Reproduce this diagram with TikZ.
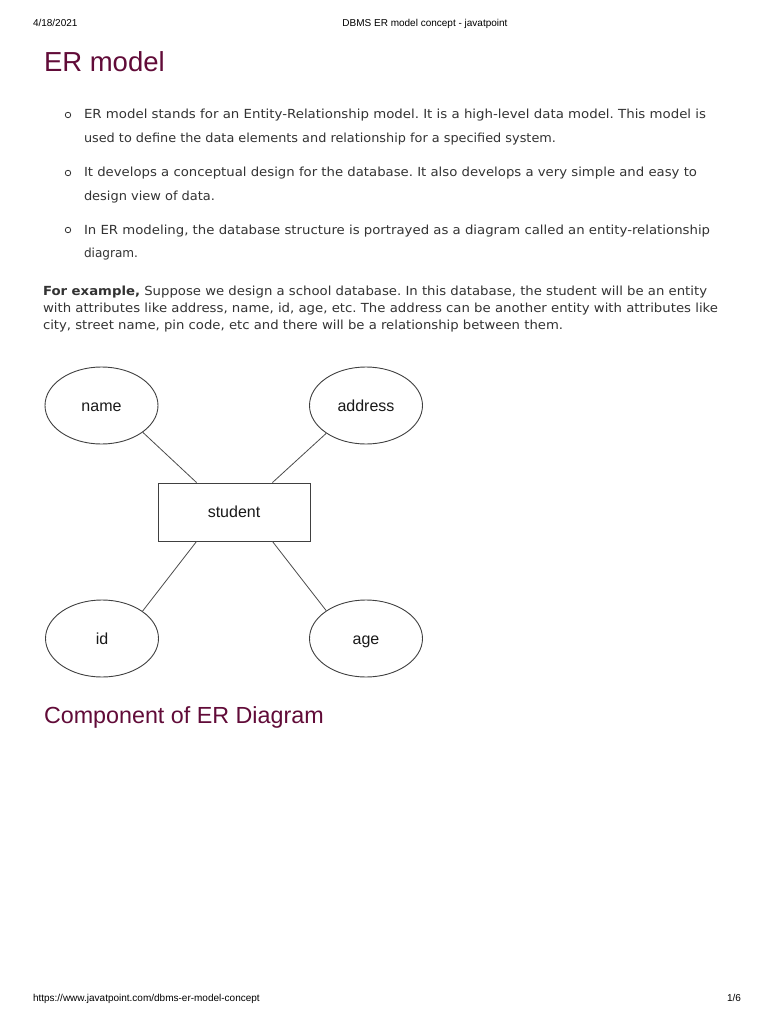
\documentclass[tikz,border=0pt]{standalone}
\usepackage{fontspec}
\setmainfont{DejaVu Sans}
\newfontfamily\arialf{Liberation Sans}
\usepackage{graphicx}
\usetikzlibrary{shapes.geometric}
\definecolor{headc}{HTML}{610B38}
\definecolor{bodyc}{HTML}{333333}
\newcommand\fw[2]{\resizebox{#1pt}{\height}{#2}}
\tikzset{
  txt/.style={anchor=base west, inner sep=0pt, outer sep=0pt, text=bodyc, font=\fontsize{12.5}{15}\selectfont},
  hdr/.style={anchor=base west, inner sep=0pt, outer sep=0pt, text=headc, font=\arialf\fontsize{#1}{#1}\selectfont},
  smalltxt/.style={anchor=base west, inner sep=0pt, outer sep=0pt, text=black, font=\arialf\fontsize{10}{12}\selectfont},
  attr/.style={ellipse, draw=black!75, line width=0.9pt, minimum width=113pt, minimum height=77pt, inner sep=0pt, text height=11.5pt, text depth=0pt, font=\arialf\fontsize{16}{18}\selectfont, text=black!90},
  ent/.style={rectangle, draw=black!75, line width=0.9pt, minimum width=152pt, minimum height=58pt, inner sep=0pt, text height=11.5pt, text depth=0pt, font=\arialf\fontsize{16}{18}\selectfont, text=black!90},
  link/.style={draw=black!70, line width=0.8pt},
  bul/.style={circle, draw=bodyc, line width=0.8pt, minimum size=5.5pt, inner sep=0pt}
}
\begin{document}
\frenchspacing
\begin{tikzpicture}[x=1pt,y=-1pt]
\useasboundingbox (0,0) rectangle (768,1024);
\fill[white] (0,0) rectangle (768,1024);
% page header
\node[smalltxt] (date) at (33,27) {4/18/2021};
\node[smalltxt, anchor=base] (ptitle) at (425,27) {DBMS ER model concept - javatpoint};
% title
\node[hdr=27.5] (h1) at (44,72) {ER model};
% bullets
\node[bul] (b1) at (68,115) {};
\node[bul] (b2) at (68,173) {};
\node[bul] (b3) at (68,230) {};
\node[txt] (b1a) at (84,119) {\fw{622}{ER model stands for an Entity-Relationship model. It is a high-level data model. This model is}};
\node[txt] (b1b) at (84,143) {\fw{472}{used to define the data elements and relationship for a specified system.}};
\node[txt] (b2a) at (84,177) {\fw{613}{It develops a conceptual design for the database. It also develops a very simple and easy to}};
\node[txt] (b2b) at (84,201) {\fw{131}{design view of data.}};
\node[txt] (b3a) at (84,234) {\fw{626}{In ER modeling, the database structure is portrayed as a diagram called an entity-relationship}};
\node[txt] (b3b) at (84,258) {\fw{54}{diagram.}};
% paragraph
\node[txt] (p1) at (43,295.5) {\fw{664}{\textbf{For example,} Suppose we design a school database. In this database, the student will be an entity}};
\node[txt] (p2) at (43,312.5) {\fw{675}{with attributes like address, name, id, age, etc. The address can be another entity with attributes like}};
\node[txt] (p3) at (43,329.5) {\fw{520}{city, street name, pin code, etc and there will be a relationship between them.}};
% ER diagram
\node[attr] (name) at (101.5,405.5) {name};
\node[attr] (address) at (366,405.5) {address};
\node[attr] (id) at (102,638.5) {id};
\node[attr] (age) at (366,638.5) {age};
\node[ent] (st) at (234,512) {student};
\draw[link] (name.-33) -- ([xshift=39pt]st.north west);
\draw[link] (address.-145.5) -- ([xshift=-38pt]st.north east);
\draw[link] (id.34) -- ([xshift=39pt]st.south west);
\draw[link] (age.145.5) -- ([xshift=-38pt]st.south east);
% second heading
\node[hdr=23.3] (h2) at (44,723) {Component of ER Diagram};
% footer
\node[smalltxt] (url) at (33,1001) {https://www.javatpoint.com/dbms-er-model-concept};
\node[smalltxt] (pg) at (727,1001) {1/6};
\end{tikzpicture}
\end{document}
